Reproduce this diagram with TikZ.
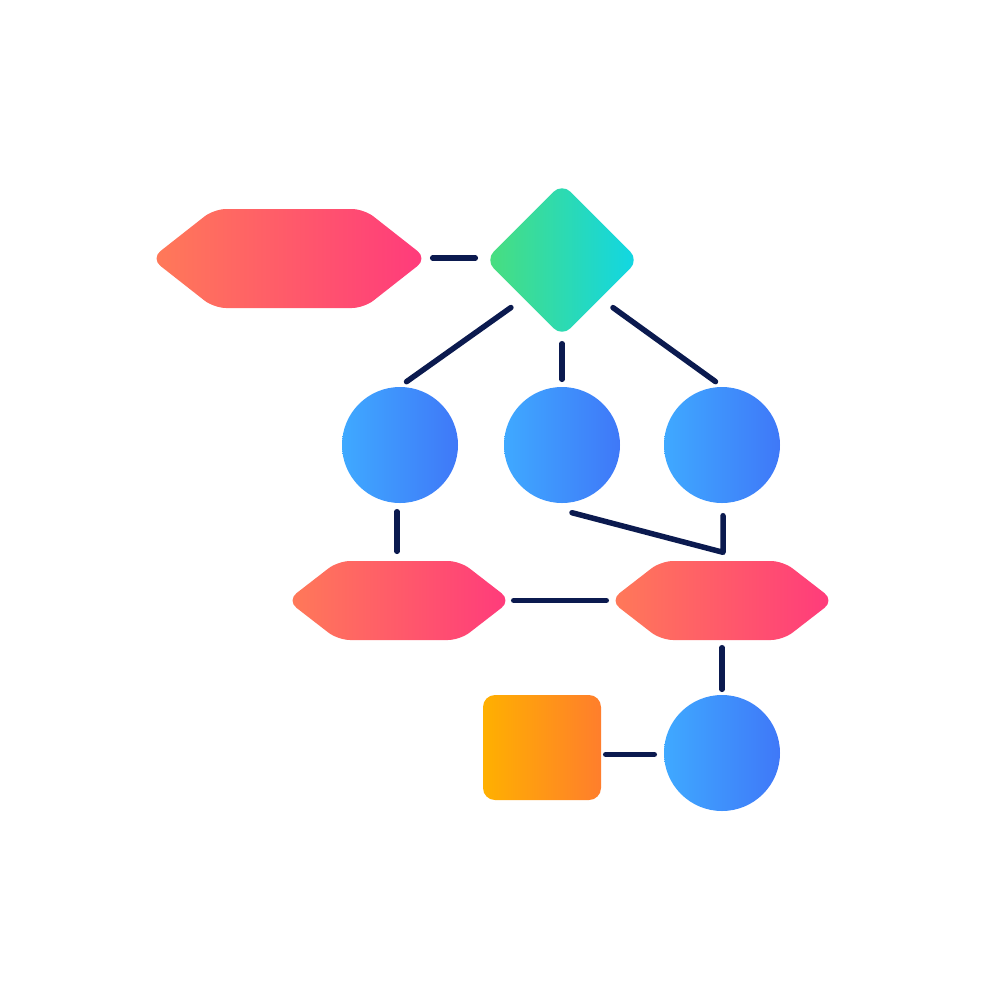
\documentclass[tikz,border=0pt]{standalone}
\usetikzlibrary{shapes.geometric,calc}
\definecolor{hexL}{HTML}{FF7A58}
\definecolor{hexR}{HTML}{FF3A7C}
\definecolor{diaL}{HTML}{4ADE7C}
\definecolor{diaR}{HTML}{10D6E6}
\definecolor{cirL}{HTML}{3FA9FF}
\definecolor{cirR}{HTML}{3F78F8}
\definecolor{sqL}{HTML}{FFB000}
\definecolor{sqR}{HTML}{FF7E2C}
\definecolor{navy}{HTML}{0B1A4F}
\tikzset{
  conn/.style={draw=navy, line width=0.55mm, line cap=round, line join=round},
  hexfill/.style={left color=hexL, right color=hexR, rounded corners=1.2mm},
  bubble/.style={circle, inner sep=0pt, minimum size=1.16cm, left color=cirL, right color=cirR},
  gem/.style={diamond, aspect=1, inner sep=0pt, minimum width=1.54cm, minimum height=1.54cm, rounded corners=1.2mm, left color=diaL, right color=diaR},
  block/.style={rectangle, inner sep=0pt, minimum width=1.18cm, minimum height=1.05cm, rounded corners=1.2mm, left color=sqL, right color=sqR},
  hexnode/.style={rectangle, inner sep=0pt}
}
% name, cx, cy, half width, half height, chamfer
\newcommand\hexa[6]{%
  \shade[hexfill] (#2-#4,#3) -- (#2-#4+#6,#3-#5) -- (#2+#4-#6,#3-#5) -- (#2+#4,#3)
     -- (#2+#4-#6,#3+#5) -- (#2-#4+#6,#3+#5) -- cycle;
  \node[hexnode, minimum width={(#4-4)*0.2mm}, minimum height={#5*0.2mm}] (#1) at (#2,#3) {};}
\begin{document}
\begin{tikzpicture}[x=0.1mm, y=-0.1mm]
\fill[white] (0,0) rectangle (1000,1000);
\useasboundingbox (0,0) rectangle (1000,1000);

\hexa{h1}{289}{258.5}{138}{49.5}{63}
\hexa{h2}{399}{600.5}{112}{39.5}{51}
\hexa{h3}{722}{600.5}{112}{39.5}{51}

\node[gem] (d) at (562,260) {};
\node[bubble] (c1) at (400,445) {};
\node[bubble] (c2) at (562,445) {};
\node[bubble] (c3) at (722,445) {};
\node[bubble] (c4) at (722,753) {};
\node[block] (sq) at (542,747.5) {};

\draw[conn, shorten <=0.9mm, shorten >=0.9mm] ($(h1.east)+(0,-0.5)$) -- ($(h1.east -| d.west)+(0,-0.5)$);
\draw[conn, shorten <=1.5mm, shorten >=0.8mm] (d.south west) -- (c1.north);
\draw[conn, shorten <=0.6mm, shorten >=0.7mm] (d.south) -- (c2.north);
\draw[conn, shorten <=1.5mm, shorten >=0.8mm] (d.south east) -- (c3.north);
\draw[conn, shorten <=0.8mm, shorten >=0.9mm] ($(c1.south)+(-3,0)$) -- ($(c1.south |- h2.north)+(-3,0)$);
\coordinate (k) at ($(h3.north)+(1,-8)$);
\draw[conn] ($(c2.south)+(10,9)$) -- (k) -- ($(k |- c3.south)+(0,12)$);
\draw[conn, shorten <=0.6mm, shorten >=0.7mm] (h2.east) -- (h3.west);
\draw[conn, shorten <=0.7mm, shorten >=0.5mm] (h3.south) -- (c4.north);
\draw[conn, shorten <=0.4mm, shorten >=0.9mm] ($(sq.east)+(0,7)$) -- ($(sq.east -| c4.west)+(0,7)$);
\end{tikzpicture}
\end{document}
